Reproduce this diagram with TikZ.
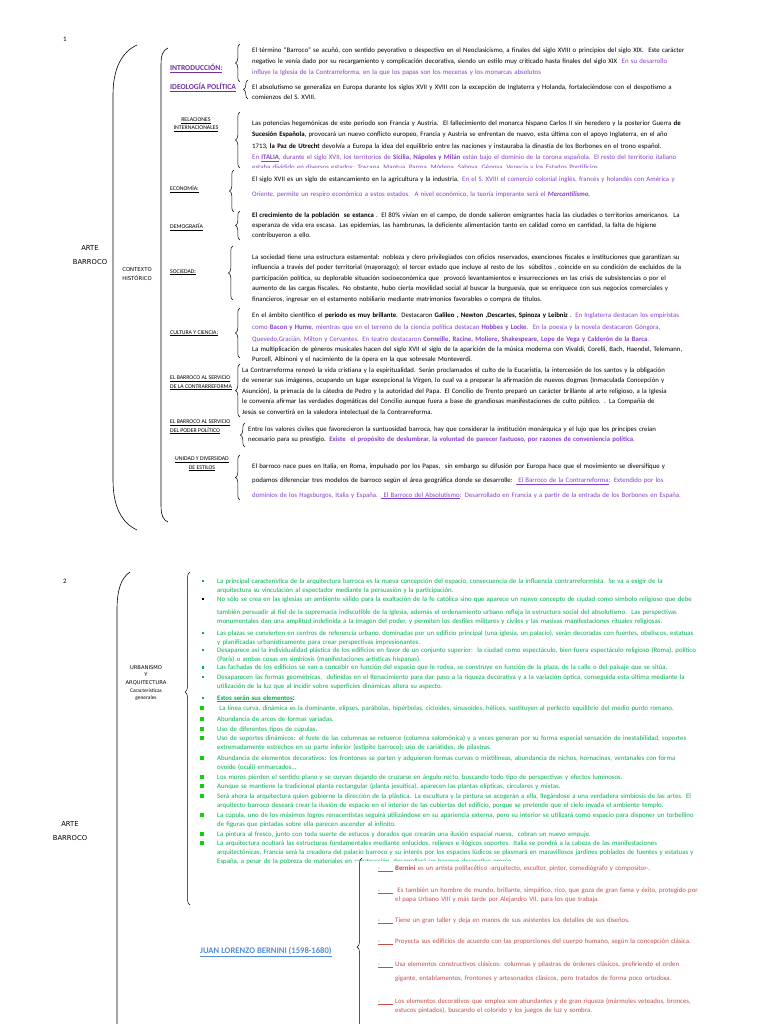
\documentclass[tikz,border=0pt]{standalone}
\usepackage{fontspec}
\setmainfont{Carlito}
\newfontfamily\anchafont{DejaVu Sans}
\usetikzlibrary{decorations.pathreplacing}
\definecolor{morado}{RGB}{112,48,160}
\definecolor{moradot}{RGB}{135,65,200}
\definecolor{verde}{RGB}{0,176,80}
\definecolor{verdeb}{RGB}{20,205,20}
\definecolor{rojo}{RGB}{192,80,77}
\definecolor{azul}{RGB}{84,141,212}
\newcommand{\jl}[1]{\makebox[\linewidth][s]{#1}}

\begin{document}
\begin{tikzpicture}[x=1pt,y=-1pt,
  txt/.style={anchor=base west, inner sep=0pt, align=left, text width=470pt, font=\fontsize{6.8}{10.5}\selectfont},
  txtv/.style={txt, text width=505pt, text=verde, font=\fontsize{6.8}{9.3}\selectfont},
  txtr/.style={txt, text width=312pt, text=rojo, font=\fontsize{6.8}{9.5}\selectfont},
  lbl/.style={anchor=base west, inner sep=0pt, align=left, font=\fontsize{5.8}{8.3}\selectfont},
  lblm/.style={lbl, text=morado, font=\fontsize{7.6}{8}\selectfont\bfseries},
  ancha/.style={inner sep=0pt, align=center, font=\anchafont\fontsize{6.8}{14}\selectfont},
  llave/.style={decorate, decoration={brace, amplitude=4.5pt}, line width=0.5pt},
  corchete/.style={line width=0.6pt},
  punto/.style={inner sep=0pt, minimum size=2.4pt},
  cuadro/.style={inner sep=0pt, minimum size=4.6pt, fill=verdeb}
]
\useasboundingbox[fill=white] (0,0) rectangle (768,1024);

% ---------- hoja 1
\node[anchor=base west, inner sep=0pt, font=\fontsize{6.8}{8}\selectfont] (num1) at (63,42) {1};
\node[ancha] (arte1) at (90,255) {ARTE\\BARROCO};
\node[ancha, font=\anchafont\fontsize{5.3}{8.5}\selectfont] (contexto) at (137,274) {CONTEXTO\\HISTÓRICO};

\draw[corchete] (137,45) .. controls (122,52) and (113,68) .. (113,95) -- (113,480) .. controls (113,507) and (122,523) .. (137,530);
\draw[corchete] (168,48) .. controls (163,50) and (161,55) .. (161,65) -- (161,505) .. controls (161,515) and (163,520) .. (168,522);

\node[lblm] (lintro) at (170,70.5) {\underline{INTRODUCCIÓN:}};
\node[lblm] (lideo) at (170,90) {\underline{IDEOLOGÍA POLÍTICA}};
\node[lbl, align=center, anchor=base] (lrel) at (196,130) {\underline{RELACIONES}\\\underline{INTERNACIONALES}};
\node[lbl] (leco) at (170,191) {\underline{ECONOMÍA:}};
\node[lbl] (ldemo) at (170,229) {\underline{DEMOGRAFÍA}};
\node[lbl] (lsoc) at (170,273) {\underline{SOCIEDAD:}};
\node[lbl] (lcult) at (170,334) {\underline{CULTURA Y CIENCIA:}};
\node[lbl] (lcontra) at (170,388) {\underline{EL BARROCO AL SERVICIO}\\\underline{DE LA CONTRARREFORMA}};
\node[lbl] (lpoder) at (170,432) {\underline{EL BARROCO AL SERVICIO}\\\underline{DEL PODER POLÍTICO}};
\node[lbl, align=center, anchor=base] (lunid) at (202,469) {\underline{UNIDAD Y DIVERSIDAD}\\\underline{DE ESTILOS}};

\draw[llave] (240,82) -- (240,44);
\draw[llave] (248,99) -- (248,80);
\draw[llave] (240,168) -- (240,112);
\draw[llave] (234,212) -- (234,170);
\draw[llave] (240,240) -- (240,211);
\draw[llave] (233,300) -- (233,246);
\draw[llave] (240,358) -- (240,308);
\draw[llave] (240,417) -- (240,364);
\draw[llave] (245,447) -- (245,423);
\draw[llave] (240,500) -- (240,455);

\begin{scope}
\clip (245,40) rectangle (768,75.2);
\node[txt, font=\fontsize{6.8}{11.2}\selectfont] (tintro) at (252,52.5) {\jl{El término “Barroco” se acuñó, con sentido peyorativo o despectivo en el Neoclasicismo, a finales del siglo XVIII o principios del siglo XIX.\ \ Este carácter}\\
\jl{negativo le venía dado por su recargamiento y complicación decorativa, siendo un estilo muy criticado hasta finales del siglo XIX\ \ {\color{moradot}En su desarrollo}}\\
{\color{moradot}influye la Iglesia de la Contrarreforma, en la que los papas son los mecenas y los monarcas absolutos}};
\end{scope}

\node[txt, font=\fontsize{6.8}{10}\selectfont] (tideo) at (252,90) {El absolutismo se generaliza en Europa durante los siglos XVII y XVIII con la excepción de Inglaterra y Holanda, fortaleciéndose con el despotismo a\\
comienzos del S. XVIII.};

\begin{scope}
\clip (245,110) rectangle (768,168);
\node[txt] (trel) at (252,126) {\jl{Las potencias hegemónicas de este periodo son Francia y Austria.\ \ El fallecimiento del monarca hispano Carlos II sin heredero y la posterior Guerra \textbf{de}}\\
\jl{\textbf{Sucesión Española}, provocará un nuevo conflicto europeo, Francia y Austria se enfrentan de nuevo, esta última con el apoyo Inglaterra, en el año}\\[2pt]
1713, \textbf{la Paz de Utrecht} devolvía a Europa la idea del equilibrio entre las naciones y instauraba la dinastía de los Borbones en el trono español.\\
{\color{moradot}En \underline{\textbf{ITALIA}}, durante el siglo XVII, los territorios de \textbf{Sicilia, Nápoles y Milán} están bajo el dominio de la corona española. El resto del territorio italiano}\\
{\color{moradot}estaba dividido en diversos estados: Toscana, Mantua, Parma, Módena, Saboya, Génova, Venecia y los Estados Pontificios}};
\end{scope}

\node[txt, font=\fontsize{6.8}{14.5}\selectfont] (teco) at (252,182) {El siglo XVII es un siglo de estancamiento en la agricultura y la industria. {\color{moradot}En el S. XVIII el comercio colonial inglés, francés y holandés con América y}\\
{\color{moradot}Oriente, permite un respiro económico a estos estados.\ \ A nivel económico, la teoría imperante será el \textbf{\textit{Mercantilismo.}}}};

\node[txt, font=\fontsize{6.8}{10}\selectfont] (tdemo) at (252,218) {\textbf{El crecimiento de la población\ \ se estanca} . El 80\% vivían en el campo, de donde salieron emigrantes hacia las ciudades o territorios americanos.\ \ La\\
esperanza de vida era escasa. Las epidemias, las hambrunas, la deficiente alimentación tanto en calidad como en cantidad, la falta de higiene\\
contribuyeron a ello.};

\node[txt] (tsoc) at (252,259) {La sociedad tiene una estructura estamental: nobleza y clero privilegiados con oficios reservados, exenciones fiscales e instituciones que garantizan su\\
influencia a través del poder territorial (mayorazgo); el tercer estado que incluye al resto de los\ \ súbditos , coincide en su condición de excluidos de la\\
participación política, su deplorable situación socioeconómica que\ \ provocó levantamientos e insurrecciones en las crisis de subsistencias o por el\\
aumento de las cargas fiscales. No obstante, hubo cierta movilidad social al buscar la burguesía, que se enriquece con sus negocios comerciales y\\
financieros, ingresar en el estamento nobiliario mediante matrimonios favorables o compra de títulos.};

\begin{scope}
\clip (245,305) rectangle (768,364);
\node[txt, font=\fontsize{6.8}{12.3}\selectfont] (tcult) at (252,317) {\jl{En el ámbito científico el \textbf{periodo es muy brillante}. Destacaron \textbf{Galileo , Newton ,Descartes, Spinoza y Leibniz} . {\color{moradot}En Inglaterra destacan los empiristas}}\\
{\color{moradot}\jl{como \textbf{Bacon y Hume}, mientras que en el terreno de la ciencia política destacan \textbf{Hobbes y Locke}.\ \ En la poesía y la novela destacaron Góngora,}}\\[-0.6pt]
{\color{moradot}Quevedo,Gracián, Milton y Cervantes. En teatro destacaron \textbf{Corneille, Racine, Moliere, Shakespeare, Lope de Vega y Calderón de la Barca}.}\\[-2pt]
La multiplicación de géneros musicales hacen del siglo XVII el siglo de la aparición de la música moderna con Vivaldi, Corelli, Bach, Haendel, Telemann,\\[-2pt]
Purcell, Albinoni y el nacimiento de la ópera en la que sobresale Monteverdi.};
\end{scope}

\node[txt, font=\fontsize{6.8}{10.6}\selectfont] (tcontra) at (242,372) {La Contrarreforma renovó la vida cristiana y la espiritualidad. Serán proclamados el culto de la Eucaristía, la intercesión de los santos y la obligación\\
de venerar sus imágenes, ocupando un lugar excepcional la Virgen, lo cual va a preparar la afirmación de nuevos dogmas (Inmaculada Concepción y\\
Asunción), la primacía de la cátedra de Pedro y la autoridad del Papa. El Concilio de Trento preparó un carácter brillante al arte religioso, a la Iglesia\\
le convenía afirmar las verdades dogmáticas del Concilio aunque fuera a base de grandiosas manifestaciones de culto público. . La Compañía de\\
Jesús se convertirá en la valedora intelectual de la Contrarreforma.};

\node[txt] (tpoder) at (248,431) {Entre los valores civiles que favorecieron la suntuosidad barroca, hay que considerar la institución monárquica y el lujo que los príncipes creían\\
necesario para su prestigio. {\color{moradot}\textbf{Existe\ \ el propósito de deslumbrar, la voluntad de parecer fastuoso, por razones de conveniencia política}.}};

\node[txt, font=\fontsize{6.8}{14.5}\selectfont] (tunid) at (252,468) {\jl{El barroco nace pues en Italia, en Roma, impulsado por los Papas,\ \ sin embargo su difusión por Europa hace que el movimiento se diversifique y}\\
\jl{podamos diferenciar tres modelos de barroco según el área geográfica donde se desarrolle: {\color{moradot}\underline{\ El Barroco de la Contrarreforma}: Extendido por los}}\\
{\color{moradot}dominios de los Hagsburgos, Italia y España. \underline{\ El Barroco del Absolutismo}: Desarrollado en Francia y a partir de la entrada de los Borbones en España.}};

% ---------- hoja 2
\node[anchor=base west, inner sep=0pt, font=\fontsize{6.8}{8}\selectfont] (num2) at (63,583) {2};
\node[ancha] (arte2) at (70,831) {ARTE\\BARROCO};
\node[ancha, font=\anchafont\fontsize{5.2}{7.6}\selectfont] (urban) at (146,683) {URBANISMO\\Y\\ARQUITECTURA\\{\fontsize{5.4}{7.6}\selectfont\rmfamily Características}\\{\fontsize{5.4}{7.6}\selectfont\rmfamily generales}};

\draw[corchete] (130,572) .. controls (121,578) and (117,590) .. (117,610) -- (117,1030);
\draw[llave, decoration={brace, amplitude=5pt, aspect=0.64}] (190,905) -- (190,572);

\foreach \yy/\cc [count=\i] in {581/verde,599/black,633/verde,650/verde,667.5/verde,677/verde,698/verde}
  \node[punto, fill=\cc] (p\i) at (203,\yy) {};
\foreach \yy [count=\i] in {708,719,729,738,758,777,786,796,815,834,843}
  \node[cuadro] (c\i) at (202,\yy) {};

\node[txtv] (v1) at (217,583.2) {\jl{La principal característica de la arquitectura barroca es la nueva concepción del espacio, consecuencia de la influencia contrarreformista. Se va a exigir de la}\\
arquitectura su vinculación al espectador mediante la persuasión y la participación.};
\node[txtv] (v2) at (217,601.2) {\jl{No sólo se crea en las iglesias un ambiente válido para la exaltación de la fe católica sino que aparece un nuevo concepto de ciudad como símbolo religioso que debe}\\[4pt]
\jl{también persuadir al fiel de la supremacía indiscutible de la Iglesia, además el ordenamiento urbano refleja la estructura social del absolutismo.\ \ Las perspectivas}\\
monumentales dan una amplitud indefinida a la imagen del poder, y permiten los desfiles militares y civiles y las masivas manifestaciones rituales religiosas.};
\node[txtv] (v3) at (217,635.2) {\jl{Las plazas se convierten en centros de referencia urbano, dominadas por un edificio principal (una iglesia, un palacio), serán decoradas con fuentes, obeliscos, estatuas}\\
y planificadas urbanísticamente para crear perspectivas impresionantes.};
\node[txtv] (v4) at (217,652.2) {Desaparece así la individualidad plástica de los edificios en favor de un conjunto superior:\ \ la ciudad como espectáculo, bien fuera espectáculo religioso (Roma), político\\
(París) o ambas cosas en simbiosis (manifestaciones artísticas hispanas).};
\node[txtv] (v5) at (217,669.7) {Las fachadas de los edificios se van a concebir en función del espacio que le rodea, se construye en función de la plaza, de la calle o del paisaje que se sitúa.};
\node[txtv] (v6) at (217,679.2) {\jl{Desaparecen las formas geométricas,\ \ definidas en el Renacimiento para dar paso a la riqueza decorativa y a la variación óptica, conseguida esta última mediante la}\\
utilización de la luz que al incidir sobre superficies dinámicas altera su aspecto.};
\node[txtv] (v7) at (217,700.2) {\underline{\textbf{Estos serán sus elementos}}{\color{black}\fontsize{8}{9}\selectfont:}};
\node[txtv] (va) at (217,710.2) {\ La línea curva, dinámica es la dominante, elipses, parábolas, hipérbolas, cicloides, sinusoides, hélices, sustituyen al perfecto equilibrio del medio punto romano.};
\node[txtv] (vb) at (217,721.2) {Abundancia de arcos de formas variadas.};
\node[txtv] (vc) at (217,731.2) {Uso de diferentes tipos de cúpulas.};
\node[txtv] (vd) at (217,740.2) {\jl{Uso de soportes dinámicos: el fuste de las columnas se retuerce (columna salomónica) y a veces generan por su forma especial sensación de inestabilidad, soportes}\\
extremadamente estrechos en su parte inferior (estípite barroco); uso de cariátides, de pilastras.};
\node[txtv] (ve) at (217,760.2) {\jl{Abundancia de elementos decorativos: los frontones se parten y adquieren formas curvas o mixtilíneas, abundancia de nichos, hornacinas, ventanales con forma}\\
ovoide (oculi) enmarcados...};
\node[txtv] (vf) at (217,779.2) {Los muros pierden el sentido plano y se curvan dejando de cruzarse en ángulo recto, buscando todo tipo de perspectivas y efectos luminosos.};
\node[txtv] (vg) at (217,788.2) {Aunque se mantiene la tradicional planta rectangular (planta jesuítica), aparecen las plantas elípticas, circulares y mixtas.};
\node[txtv] (vh) at (217,798.2) {\jl{Será ahora la arquitectura quien gobierne la dirección de la plástica. La escultura y la pintura se acogerán a ella, llegándose a una verdadera simbiosis de las artes. El}\\
arquitecto barroco deseará crear la ilusión de espacio en el interior de las cubiertas del edificio, porque se pretende que el cielo invada el ambiente templo.};
\node[txtv] (vi) at (217,817.2) {\jl{La cúpula, uno de los máximos logros renacentistas seguirá utilizándose en su apariencia externa, pero su interior se utilizará como espacio para disponer un torbellino}\\
de figuras que pintadas sobre ella parecen ascender al infinito.};
\node[txtv] (vj) at (217,836.2) {La pintura al fresco, junto con toda suerte de estucos y dorados que crearán una ilusión espacial nueva,\ \ cobran un nuevo empuje.};
\begin{scope}
\clip (195,835) rectangle (352,870) (352,835) rectangle (768,860.5);
\node[txtv] (vk) at (217,845.2) {\jl{La arquitectura ocultará las estructuras fundamentales mediante enlucidos, relieves e ilógicos soportes. Italia se pondrá a la cabeza de las manifestaciones}\\
\jl{arquitectónicas, Francia será la creadora del palacio barroco y su interés por los espacios lúdicos se plasmará en maravillosos jardines poblados de fuentes y estatuas y}\\
España, a pesar de la pobreza de materiales en construcción, desarrollará un barroco decorativo propio.};
\end{scope}

% ---------- Bernini
\node[anchor=base west, inner sep=0pt, text=azul, font=\fontsize{8.6}{9}\selectfont\bfseries] (bernini) at (200,953) {\underline{JUAN LORENZO BERNINI (1598-1680)}};
\draw[llave, decoration={brace, amplitude=5pt, aspect=0.5}] (362,1036) -- (362,858);

\foreach \yy [count=\i] in {870,892,922,943,966,1003}
  \node[anchor=base west, inner sep=0pt, text=rojo, font=\fontsize{6.8}{8}\selectfont] (g\i) at (378,\yy) {\underline{-\hspace{13pt}}};

\node[txtr] (r1) at (395,870) {\textbf{Bernini} es un artista polifacético -arquitecto, escultor, pintor, comediógrafo y compositor-.};
\node[txtr] (r2) at (395,892) {\ Es también un hombre de mundo, brillante, simpático, rico, que goza de gran fama y éxito, protegido por\\
el papa Urbano VIII y más tarde por Alejandro VII, para los que trabaja.};
\node[txtr] (r3) at (395,922) {Tiene un gran taller y deja en manos de sus asistentes los detalles de sus diseños.};
\node[txtr] (r4) at (395,943) {Proyecta sus edificios de acuerdo con las proporciones del cuerpo humano, según la concepción clásica.};
\node[txtr, font=\fontsize{6.8}{14}\selectfont] (r5) at (395,966) {\jl{Usa elementos constructivos clásicos: columnas y pilastras de órdenes clásicos, prefiriendo el orden}\\
gigante, entablamentos, frontones y artesonados clásicos, pero tratados de forma poco ortodoxa.};
\node[txtr] (r6) at (395,1003) {Los elementos decorativos que emplea son abundantes y de gran riqueza (mármoles veteados, bronces,\\
estucos pintados), buscando el colorido y los juegos de luz y sombra.};
\end{tikzpicture}
\end{document}
